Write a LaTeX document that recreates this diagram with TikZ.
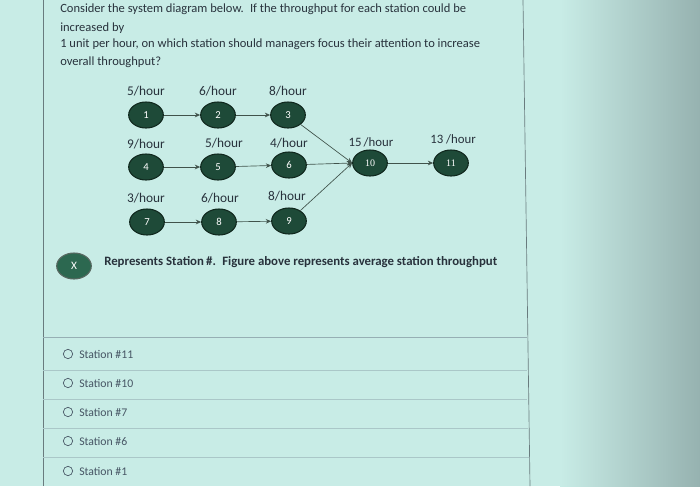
\documentclass[tikz,border=0pt]{standalone}
\usepackage{fontspec}
\setmainfont{Carlito}
\newfontfamily\serifnum{Liberation Serif}
\usetikzlibrary{shapes.geometric,arrows.meta}
\definecolor{bgA}{RGB}{200,236,230}
\definecolor{bgB}{RGB}{150,178,176}
\definecolor{stfill}{RGB}{30,74,56}
\definecolor{stdraw}{RGB}{16,40,30}
\definecolor{legfill}{RGB}{44,104,80}
\definecolor{txt}{RGB}{40,50,60}
\definecolor{opt}{RGB}{70,85,100}
\definecolor{rule}{RGB}{150,175,180}
\tikzset{
  station/.style={ellipse,draw=stdraw,line width=0.8pt,fill=stfill,minimum width=26pt,minimum height=19.5pt,inner sep=0pt,text=white,font=\fontsize{8}{9}\selectfont},
  rate/.style={font=\fontsize{10}{12}\selectfont,text=txt},
  flow/.style={draw=stdraw!80,line width=0.5pt,-{Stealth[length=4pt,width=3.5pt]}},
  qline/.style={anchor=west,font=\fontsize{9.4}{11}\selectfont,text=txt,inner sep=0pt},
  optbox/.style={circle,draw=opt,line width=0.5pt,minimum size=7pt,inner sep=0pt},
  opttext/.style={anchor=west,font=\fontsize{8.8}{10}\selectfont,text=opt,inner sep=0pt},
  sep/.style={draw=rule!60!bgA,line width=0.4pt}
}
\begin{document}
\begin{tikzpicture}[x=0.75pt,y=-0.75pt]
\useasboundingbox (0,0) rectangle (700,486);
\fill[bgA] (0,0) rectangle (560,486);
\shade[left color=bgA,right color=bgB] (560,0) rectangle (700,486);
% panel borders
\draw[draw=rule!70!black,line width=0.5pt] (43,0) -- (43,486);
\draw[draw=rule!70!black,line width=0.5pt] (523,0) -- (530,486);
% question
\node[qline] (q1) at (60,9) {Consider the system diagram below.\enspace If the throughput for each station could be};
\node[qline] (q2) at (60,28) {increased by};
\node[qline] (q3) at (60,44) {1 unit per hour, on which station should managers focus their attention to increase};
\node[qline] (q4) at (60,62) {overall throughput?};
% stations
\node[station] (s1) at (146,115) {1};
\node[station] (s2) at (218,115) {2};
\node[station] (s3) at (288,115) {3};
\node[station] (s4) at (146,167) {4};
\node[station] (s5) at (218,167) {5};
\node[station] (s6) at (289,165) {6};
\node[station] (s7) at (147,222) {7};
\node[station] (s8) at (219,222) {8};
\node[station] (s9) at (289,221) {9};
\node[station,font=\serifnum\fontsize{7.5}{8}\selectfont] (s10) at (370,163) {10};
\node[station,font=\serifnum\fontsize{7.5}{8}\selectfont] (s11) at (451,163) {11};
% rates
\node[rate] (r1) at (146,91) {5/hour};
\node[rate] (r2) at (218,91) {6/hour};
\node[rate] (r3) at (288,91) {8/hour};
\node[rate] (r4) at (146,144) {9/hour};
\node[rate] (r5) at (224,143) {5/hour};
\node[rate] (r6) at (289,143) {4/hour};
\node[rate] (r7) at (146,198) {3/hour};
\node[rate] (r8) at (220,198) {6/hour};
\node[rate] (r9) at (287,196) {8/hour};
\node[rate,font=\fontsize{9.6}{11}\selectfont] (r10) at (371,142) {15\,/hour};
\node[rate,font=\fontsize{9.6}{11}\selectfont] (r11) at (453,139) {13 /hour};
% flows
\draw[flow] (s1) -- (s2);
\draw[flow] (s2) -- (s3);
\draw[flow] (s4) -- (s5);
\draw[flow] (s5) -- (s6);
\draw[flow] (s7) -- (s8);
\draw[flow] (s8) -- (s9);
\draw[flow] (s3) -- (s10.west);
\draw[flow] (s6) -- (s10.west);
\draw[flow] (s9) -- (s10.west);
\draw[flow] (s10) -- (s11);
% legend
\node[station,fill=legfill,draw=stdraw!70,font=\fontsize{8.5}{9}\selectfont] (lx) at (74,266) {X};
\node[anchor=west,inner sep=0pt,text=txt,font=\bfseries\fontsize{9.6}{11}\selectfont] (lt) at (104,262) {Represents Station\,\#.\enspace Figure above represents average station throughput};
% answers
\draw[draw=rule,line width=0.4pt] (43,337) -- (527,337);
\draw[sep] (43,370) -- (527,370);
\draw[sep] (43,399) -- (527,399);
\draw[sep] (43,428) -- (528,428);
\draw[sep] (43,457) -- (529,457);
\node[optbox] (o1) at (68,354) {};
\node[opttext] (t1) at (79,354) {Station \#11};
\node[optbox] (o2) at (68,383) {};
\node[opttext] (t2) at (79,383) {Station \#10};
\node[optbox] (o3) at (68,412) {};
\node[opttext] (t3) at (79,412) {Station \#7};
\node[optbox] (o4) at (68,441) {};
\node[opttext] (t4) at (79,441) {Station \#6};
\node[optbox] (o5) at (68,471) {};
\node[opttext] (t5) at (79,471) {Station \#1};
\end{tikzpicture}
\end{document}
